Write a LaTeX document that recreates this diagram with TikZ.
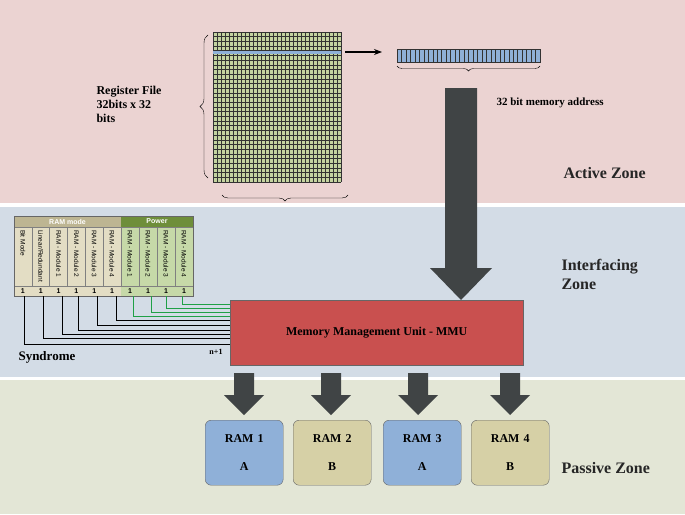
\documentclass[tikz,border=0pt]{standalone}
\usepackage{fontspec}
\setmainfont{Liberation Serif}
\setsansfont{Liberation Sans}
\usetikzlibrary{decorations.pathreplacing,arrows.meta}
\definecolor{pinkz}{HTML}{EBD3D2}
\definecolor{bluez}{HTML}{D3DCE6}
\definecolor{greenz}{HTML}{E3E6D6}
\definecolor{darkar}{HTML}{404445}
\definecolor{mmured}{HTML}{C9504F}
\definecolor{ramblue}{HTML}{8FB0D8}
\definecolor{ramtan}{HTML}{D6D0A6}
\definecolor{tanh}{HTML}{BDB592}
\definecolor{tanc}{HTML}{E3DDC4}
\definecolor{greenh}{HTML}{6E8E3A}
\definecolor{greenc}{HTML}{C6D9A8}
\definecolor{gridg}{HTML}{C4D3A0}
\definecolor{wire}{HTML}{1FA046}
\tikzset{
 zonelbl/.style={font=\bfseries\fontsize{16}{19}\selectfont, anchor=west, text=black!85, align=left},
 ram/.style={draw=black!60, rounded corners=6pt, minimum width=78pt, minimum height=65pt, anchor=north west, font=\bfseries\fontsize{12}{14}\selectfont, align=center, text width=70pt},
 hdr/.style={font=\sffamily\bfseries\fontsize{7}{8}\selectfont, text=white},
 col/.style={font=\sffamily\fontsize{6.5}{8}\selectfont, rotate=-90, anchor=west, inner sep=1pt},
}
\begin{document}
\begin{tikzpicture}[x=1pt,y=-1pt]
\useasboundingbox (0,0) rectangle (685,514);
\fill[pinkz] (0,0) rectangle (685,203);
\fill[white] (0,203) rectangle (685,207);
\fill[bluez] (0,207) rectangle (685,377);
\fill[white] (0,377) rectangle (685,380);
\fill[greenz] (0,380) rectangle (685,514);
% register file
\fill[gridg] (213,32) rectangle (341,182);
\foreach \i in {0,...,32} {\draw[black!80, line width=0.6pt] ({213+\i*4},32) -- ({213+\i*4},182);}
\foreach \j in {0,...,32} {\draw[black!80, line width=0.6pt] (213,{32+\j*150/32}) -- (341,{32+\j*150/32});}
\fill[ramblue] (213,51) rectangle (341,54);
\node[coordinate] (regrow) at (345,52) {};
\node[coordinate] (addrL) at (382,52) {};
\draw[-{Stealth[length=8pt]}, line width=1.2pt] (regrow) -- (addrL);
\draw[decorate, decoration={brace, amplitude=8pt}] (208,178) -- (208,35);
\draw[decorate, decoration={brace, amplitude=6pt}] (348,195) -- (222,195);
\node[font=\bfseries\fontsize{12}{14}\selectfont, anchor=west, align=left] (regl) at (93,104) {Register File\\32bits x 32\\bits};
% address bar
\fill[ramblue] (397,49) rectangle (540,62);
\foreach \i in {0,...,32} {\draw[black!80] ({397+\i*143/32},49) -- ({397+\i*143/32},62);}
\draw[black!80] (397,49) rectangle (540,62);
\draw[decorate, decoration={brace, amplitude=5pt}] (540,66) -- (397,66);
\node[font=\bfseries\fontsize{11}{13}\selectfont, anchor=west] (addr) at (493,103) {32 bit memory address};
% big arrow
\fill[darkar] (445,88) -- (477,88) -- (477,268) -- (492,268) -- (461,300) -- (430,268) -- (445,268) -- cycle;
% zone labels
\node[zonelbl] (az) at (560,173) {Active Zone};
\node[zonelbl] (iz) at (558,274) {Interfacing\\Zone};
\node[zonelbl] (pz) at (558,468) {Passive Zone};
% MMU
\node[draw=black!60, fill=mmured, minimum width=293pt, minimum height=65pt, font=\bfseries\fontsize{12}{14}\selectfont, anchor=north west] (mmu) at (230,300) {Memory Management Unit - MMU};
\node[font=\bfseries\fontsize{8}{9}\selectfont] (n1) at (216,352) {n+1};
\node[font=\bfseries\fontsize{13}{15}\selectfont, anchor=west] (syn) at (15,357) {Syndrome};
% table
\fill[tanh] (14,216) rectangle (121,227);
\fill[greenh] (121,216) rectangle (193,227);
\node[hdr] (h1) at (67.5,221.5) {RAM mode};
\node[hdr] (h2) at (157,221.5) {Power};
\foreach \i/\t in {0/{Bit Mode},1/{Linear\slash Redundant},2/{RAM - Module 1},3/{RAM - Module 2},4/{RAM - Module 3},5/{RAM - Module 4}} {
  \fill[tanc] ({14+\i*17.83},227) rectangle ({14+(\i+1)*17.83},296);
  \draw[black!50] ({14+\i*17.83},227) rectangle ({14+(\i+1)*17.83},286);
  \node[col] at ({14+(\i+0.5)*17.83},229) {\t};
  \node[font=\sffamily\bfseries\fontsize{7}{8}\selectfont] at ({14+(\i+0.5)*17.83},291) {1};
}
\foreach \i/\t in {0/{RAM - Module 1},1/{RAM - Module 2},2/{RAM - Module 3},3/{RAM - Module 4}} {
  \fill[greenc] ({121+\i*18},227) rectangle ({121+(\i+1)*18},296);
  \draw[black!50] ({121+\i*18},227) rectangle ({121+(\i+1)*18},286);
  \node[col] at ({121+(\i+0.5)*18},229) {\t};
  \node[font=\sffamily\bfseries\fontsize{7}{8}\selectfont] at ({121+(\i+0.5)*18},291) {1};
}
\draw[black!60] (14,216) rectangle (193,296);
% wires
\foreach \x/\y in {24/344,43/338,62/334,78/330,97/325,116/320} {\draw[black, line width=0.8pt] (\x,296) |- (230,\y);}
\foreach \x/\y in {133/316,151/312,166/308,182/304} {\draw[wire, line width=0.8pt] (\x,296) |- (230,\y);}
% down arrows
\foreach \x in {244,331,418,510} {
  \fill[darkar] (\x-10,373) -- (\x+10,373) -- (\x+10,395) -- (\x+20,395) -- (\x,415) -- (\x-20,395) -- (\x-10,395) -- cycle;
}
% RAMs
\node[ram, fill=ramblue] (r1) at (205,420) {RAM 1\\[14pt]A};
\node[ram, fill=ramtan] (r2) at (293,420) {RAM 2\\[14pt]B};
\node[ram, fill=ramblue] (r3) at (383,420) {RAM 3\\[14pt]A};
\node[ram, fill=ramtan] (r4) at (471,420) {RAM 4\\[14pt]B};
\end{tikzpicture}
\end{document}
